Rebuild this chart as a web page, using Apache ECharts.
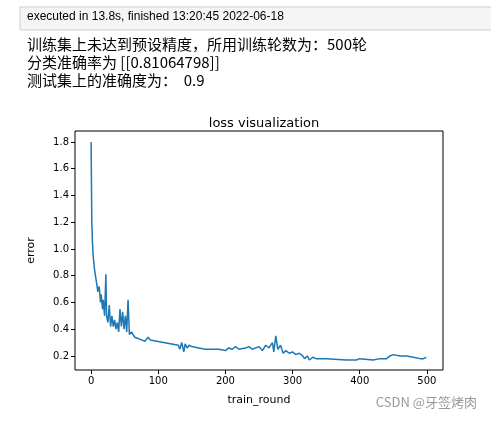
<!DOCTYPE html>
<html><head><meta charset="utf-8">
<script src="https://cdn.jsdelivr.net/npm/echarts@6/dist/echarts.min.js"></script>
<style>html,body{margin:0;padding:0;background:#fff}#c{width:491px;height:422px}</style>
</head><body><div id="c"></div>
<script>
// loss curve (round, error)
var rounds=[0,1,2,3,5,8,10,12,14,15,17,18,20,22,23,25,27,29,31,33,35,37,39,41,43,45,47,49,51,53,55,57,60,65,70,75,80,85,88,130,132,135,138,140,143,146,150,160,170,180,190,200,205,210,215,220,230,235,240,250,255,260,265,270,272,275,278,282,286,290,295,300,305,310,315,318,322,325,330,335,350,380,395,400,420,430,440,445,450,460,470,480,490,495,499];
var errors=[1.8,1.2,1.05,0.95,0.85,0.75,0.68,0.72,0.6,0.66,0.55,0.62,0.5,0.81,0.5,0.45,0.58,0.42,0.5,0.42,0.47,0.4,0.45,0.38,0.55,0.42,0.53,0.4,0.5,0.38,0.62,0.36,0.38,0.34,0.33,0.32,0.31,0.34,0.32,0.28,0.25,0.3,0.23,0.29,0.26,0.28,0.27,0.26,0.25,0.25,0.25,0.24,0.26,0.25,0.27,0.25,0.26,0.27,0.25,0.27,0.24,0.28,0.26,0.3,0.23,0.35,0.25,0.28,0.22,0.24,0.22,0.23,0.21,0.22,0.2,0.18,0.2,0.17,0.19,0.18,0.18,0.17,0.17,0.18,0.17,0.18,0.18,0.2,0.21,0.2,0.2,0.19,0.18,0.18,0.19];
var xTicks=[0,100,200,300,400,500];
var yTicks=[0.2,0.4,0.6,0.8,1.0,1.2,1.4,1.6,1.8];
var outLines=['训练集上未达到预设精度，所用训练轮数为：500轮','分类准确率为 [[0.81064798]]','测试集上的准确度为：  0.9'];

var pts=[];
for(var i=0;i<rounds.length;i++){pts.push([rounds[i],errors[i]]);}

var txt=[];
for(var i=0;i<outLines.length;i++){
  txt.push({type:'text',left:27,top:37+i*18,style:{text:outLines[i],font:'15px "Noto Sans CJK SC"',fill:'#000'}});
}

var myChart=echarts.init(document.getElementById('c'));
myChart.setOption({
  animation:false,
  title:{text:'loss visualization',left:259,top:112,textAlign:'center',textStyle:{fontSize:13,fontWeight:'normal',color:'#000',fontFamily:'DejaVu Sans'}},
  graphic:[
    {type:'rect',shape:{x:20,y:7,width:480,height:23},style:{fill:'#f5f5f5',stroke:'#cfcfcf'}},
    {type:'text',left:27,top:11,style:{text:'executed in 13.8s, finished 13:20:45 2022-06-18',font:'12px "Liberation Sans"',fill:'#000'}},
    {type:'text',right:14,top:396,style:{text:'CSDN @牙签烤肉',font:'13px "Noto Sans CJK SC"',fill:'#999'}}
  ].concat(txt),
  grid:{left:75,right:48,top:131,bottom:52,show:true,borderColor:'#000',borderWidth:1},
  xAxis:{type:'value',min:-24,max:524,name:'train_round',nameLocation:'middle',nameGap:25,
    nameTextStyle:{fontSize:11,color:'#000',fontFamily:'DejaVu Sans'},
    axisLine:{show:false,onZero:false},splitLine:{show:false},
    axisTick:{show:true,length:4,inside:false,customValues:xTicks,lineStyle:{color:'#000'}},
    axisLabel:{customValues:xTicks,color:'#000',fontSize:10,fontFamily:'DejaVu Sans',margin:6}},
  yAxis:{type:'value',min:0.095,max:1.882,name:'error',nameLocation:'middle',nameGap:38,
    nameTextStyle:{fontSize:11,color:'#000',fontFamily:'DejaVu Sans'},
    axisLine:{show:false,onZero:false},splitLine:{show:false},
    axisTick:{show:true,length:4,customValues:yTicks,lineStyle:{color:'#000'}},
    axisLabel:{customValues:yTicks,color:'#000',fontSize:10,fontFamily:'DejaVu Sans',margin:6,
      formatter:function(v){return v.toFixed(1);}}},
  series:[{type:'line',data:pts,showSymbol:false,lineStyle:{color:'#1f77b4',width:1.5}}]
});
</script></body></html>
